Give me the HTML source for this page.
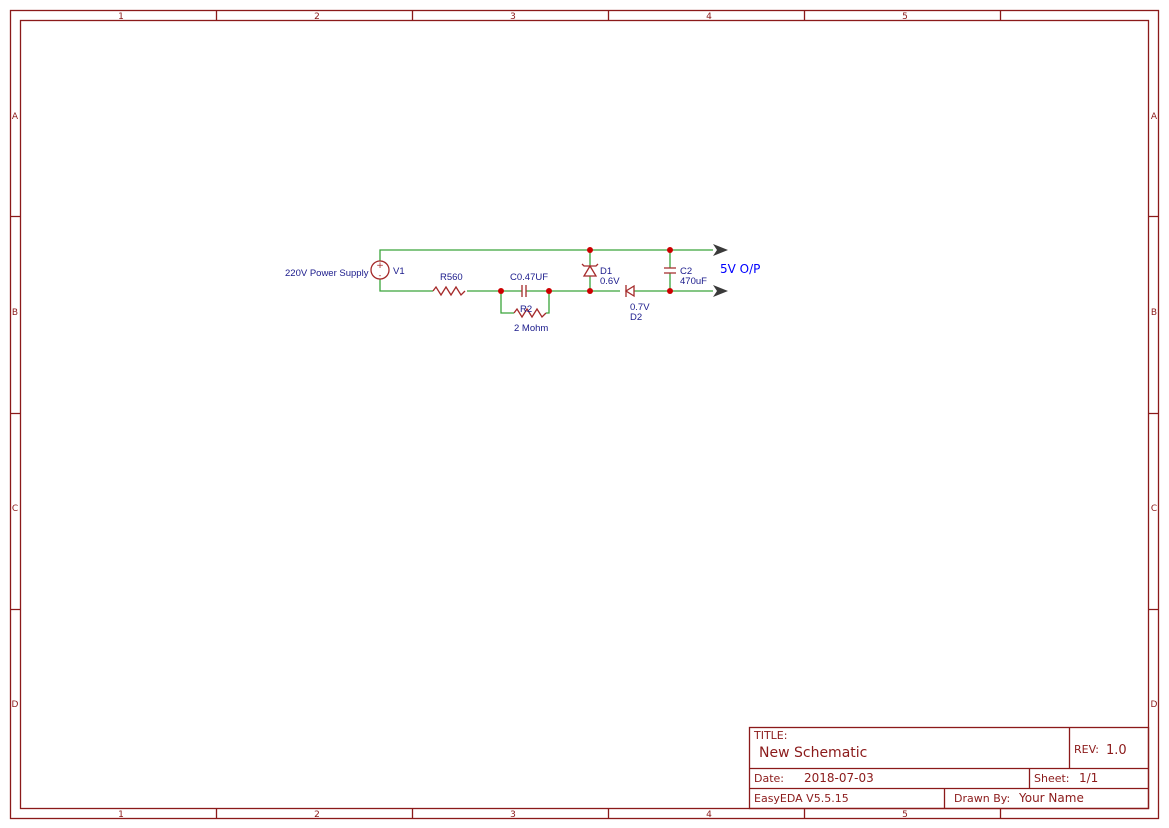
<!DOCTYPE html>
<html><head><style>body{margin:0;background:#fff}svg{display:block}text{font-family:"DejaVu Sans","Liberation Sans",sans-serif}.c text{font-family:"Liberation Sans",sans-serif}</style></head><body>
<svg width="1169" height="828" viewBox="0 0 1169 828" xmlns="http://www.w3.org/2000/svg">
<g fill="none" stroke="#8b1a1a" stroke-width="1.3">
<rect x="10.5" y="10.5" width="1148" height="808"/>
<rect x="20.5" y="20.5" width="1128" height="788"/>
<path d="M216.5 10v10M412.5 10v10M608.5 10v10M804.5 10v10M1000.5 10v10M216.5 808v10M412.5 808v10M608.5 808v10M804.5 808v10M1000.5 808v10M10 216.5h10M10 413.5h10M10 609.5h10M1148 216.5h10M1148 413.5h10M1148 609.5h10"/>
<rect x="749.5" y="727.5" width="399" height="81"/>
<path d="M749 768.5h400M749 788.5h400M1069.5 727v41M1029.5 768v20M944.5 788v20"/>
</g>
<g fill="#8b1a1a" font-size="9" text-anchor="middle">
<text x="121" y="19">1</text><text x="317" y="19">2</text><text x="513" y="19">3</text><text x="709" y="19">4</text><text x="905" y="19">5</text>
<text x="121" y="817">1</text><text x="317" y="817">2</text><text x="513" y="817">3</text><text x="709" y="817">4</text><text x="905" y="817">5</text>
<text x="15" y="119">A</text><text x="15" y="315">B</text><text x="15" y="511">C</text><text x="15" y="707">D</text>
<text x="1154" y="119">A</text><text x="1154" y="315">B</text><text x="1154" y="511">C</text><text x="1154" y="707">D</text>
</g>
<g fill="#8b1a1a" font-size="11">
<text x="754" y="739">TITLE:</text>
<text x="759" y="757" font-size="14">New Schematic</text>
<text x="1074" y="753">REV:</text><text x="1106" y="754" font-size="13">1.0</text>
<text x="754" y="782">Date:</text><text x="804" y="782" font-size="12">2018-07-03</text>
<text x="1034" y="782">Sheet:</text><text x="1079" y="782" font-size="12">1/1</text>
<text x="754" y="802">EasyEDA V5.5.15</text>
<text x="954" y="802">Drawn By:</text><text x="1019" y="802" font-size="12">Your Name</text>
</g>
<g fill="none" stroke="#3aa53a" stroke-width="1.3">
<path d="M380 261V250H713M380 279V291H433M467 291H522M526 291H620M634 291H713M501 291V313H514M546 313H549V291M590 250V266M590 276V291M670 250V268M670 273V291"/>
</g>
<g fill="none" stroke="#a52a2a" stroke-width="1.3">
<circle cx="380" cy="270" r="9"/>
<path d="M433 291l3-4 5 8 5-8 5 8 5-8 5 8 4-4"/>
<path d="M514 313l3-4 5 8 5-8 5 8 5-8 5 8 4-4"/>
<path d="M522 285v12M526 285v12M664 268h12M664 273h12"/>
<path d="M584 276h12l-6-10z"/>
<path d="M582 264l2 2h12l2-2"/>
<path d="M634 286l-8 5 8 5z M626 285v12"/>
</g>
<text x="380" y="268" font-size="9" fill="#a52a2a" text-anchor="middle">+</text>
<text x="380" y="278" font-size="8" fill="#a52a2a" text-anchor="middle">-</text>
<g fill="#3a3a3a"><path d="M713 244l15 6-15 6 4-6z"/><path d="M713 285l15 6-15 6 4-6z"/></g>
<g fill="#cc0000"><circle cx="501" cy="291" r="3"/><circle cx="549" cy="291" r="3"/><circle cx="590" cy="291" r="3"/><circle cx="590" cy="250" r="3"/><circle cx="670" cy="250" r="3"/><circle cx="670" cy="291" r="3"/></g>
<g class="c" fill="#1a1a8b" font-size="9.5">
<text x="285" y="276">220V Power Supply</text><text x="393" y="274">V1</text>
<text x="440" y="280">R560</text><text x="510" y="280">C0.47UF</text>
<text x="520" y="312">R2</text><text x="514" y="331">2 Mohm</text>
<text x="600" y="274">D1</text><text x="600" y="284">0.6V</text>
<text x="680" y="274">C2</text><text x="680" y="284">470uF</text>
<text x="630" y="310">0.7V</text><text x="630" y="320">D2</text>
</g>
<text x="720" y="273" font-size="12" fill="#0000ff" font-family="Liberation Sans, sans-serif">5V O/P</text>
</svg>
</body></html>
